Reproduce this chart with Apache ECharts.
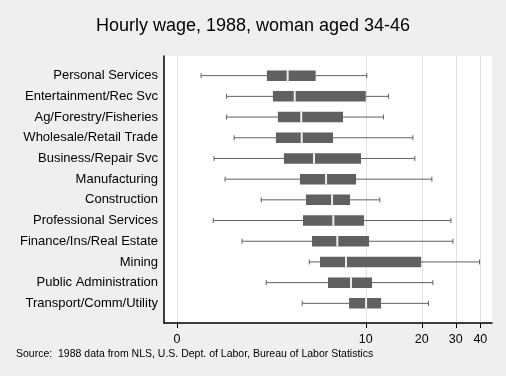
<!DOCTYPE html>
<html>
<head>
<meta charset="utf-8">
<script src="https://cdn.jsdelivr.net/npm/echarts@6/dist/echarts.min.js"></script>
<style>
  html, body { margin: 0; padding: 0; background: #efefef; }
  #chart { width: 506px; height: 376px; }
</style>
</head>
<body>
<div id="chart"></div>
<script>
// industries, top to bottom
var industries = [
  "Personal Services", "Entertainment/Rec Svc", "Ag/Forestry/Fisheries",
  "Wholesale/Retail Trade", "Business/Repair Svc", "Manufacturing",
  "Construction", "Professional Services", "Finance/Ins/Real Estate",
  "Mining", "Public Administration", "Transport/Comm/Utility"
];
// hourly wage box stats (adjacent values, quartiles, median)
var lowWhisker = [0.42, 1.01, 1.01, 1.22, 0.70, 0.97, 2.14, 0.68, 1.46, 4.65, 2.34, 4.19];
var q1         = [2.37, 2.63, 2.86, 2.77, 3.16, 4.05, 4.43, 4.24, 4.84, 5.42, 6.06, 8.05];
var median     = [3.35, 3.74, 4.13, 4.16, 4.98, 5.90, 6.41, 6.52, 6.88, 7.73, 8.26, 10.04];
var q3         = [5.10, 10.0, 7.43, 6.49, 9.41, 8.82, 8.15, 9.78, 10.43, 19.85, 10.84, 12.14];
var highWhisker = [10.13, 13.30, 12.50, 17.96, 18.39, 22.58, 11.95, 28.31, 28.99, 39.62, 22.85, 21.67];
var wageTicks = [0, 10, 20, 30, 40];

// axis is log(wage + c)
var OFFSET = 1.35;
function tr(w) { return Math.log(w + OFFSET) - Math.log(OFFSET); }
function untr(v) { return OFFSET * Math.exp(v) - OFFSET; }

var data = industries.map(function (name, i) {
  return [i, tr(lowWhisker[i]), tr(q1[i]), tr(median[i]), tr(q3[i]), tr(highWhisker[i])];
});

var boxColor = "#606060";

var chart = echarts.init(document.getElementById("chart"));
chart.setOption({
  backgroundColor: "#efefef",
  animation: false,
  title: {
    text: "Hourly wage, 1988, woman aged 34-46",
    left: "center",
    top: 12,
    textStyle: { fontFamily: "Liberation Sans", fontSize: 18, fontWeight: "normal", color: "#000" }
  },
  graphic: [
    {
      type: "text",
      left: 16,
      top: 349,
      style: {
        text: "Source:  1988 data from NLS, U.S. Dept. of Labor, Bureau of Labor Statistics",
        font: "10.5px Liberation Sans",
        fill: "#000"
      }
    }
  ],
  grid: {
    left: 164,
    right: 14,
    top: 56,
    bottom: 53,
    show: true,
    backgroundColor: "#ffffff",
    borderWidth: 0
  },
  xAxis: {
    type: "value",
    min: tr(-0.185),
    max: tr(45.8),
    axisLine: { show: true, onZero: false, lineStyle: { color: "#000", width: 1.5 } },
    axisTick: { show: true, length: 5, customValues: wageTicks.map(tr), lineStyle: { color: "#000" } },
    axisLabel: {
      customValues: wageTicks.map(tr),
      formatter: function (v) { return String(Math.round(untr(v))); },
      color: "#000",
      fontFamily: "Liberation Sans",
      fontSize: 12.5,
      margin: 10
    },
    splitLine: { show: true, lineStyle: { color: "#e2e2e2", width: 1 } }
  },
  yAxis: {
    type: "value",
    inverse: true,
    min: -0.95,
    max: 11.95,
    axisLine: { show: true, onZero: false, lineStyle: { color: "#000", width: 1.5 } },
    axisTick: { show: false },
    splitLine: { show: false },
    axisLabel: {
      customValues: industries.map(function (n, i) { return i; }),
      formatter: function (v) { return industries[v] || ""; },
      color: "#000",
      fontFamily: "Liberation Sans",
      fontSize: 13,
      margin: 6
    }
  },
  series: [
    {
      type: "custom",
      data: data,
      encode: { x: [1, 2, 3, 4, 5], y: 0 },
      renderItem: function (params, api) {
        var i = api.value(0);
        var pLow = api.coord([api.value(1), i]);
        var pQ1 = api.coord([api.value(2), i]);
        var pMed = api.coord([api.value(3), i]);
        var pQ3 = api.coord([api.value(4), i]);
        var pHigh = api.coord([api.value(5), i]);
        var y = pLow[1];
        var boxH = 10.5, capH = 5;
        var lineStyle = { stroke: boxColor, lineWidth: 1 };
        return {
          type: "group",
          children: [
            { type: "line", shape: { x1: pLow[0], y1: y, x2: pQ1[0], y2: y }, style: lineStyle },
            { type: "line", shape: { x1: pQ3[0], y1: y, x2: pHigh[0], y2: y }, style: lineStyle },
            { type: "line", shape: { x1: pLow[0], y1: y - capH / 2, x2: pLow[0], y2: y + capH / 2 }, style: lineStyle },
            { type: "line", shape: { x1: pHigh[0], y1: y - capH / 2, x2: pHigh[0], y2: y + capH / 2 }, style: lineStyle },
            { type: "rect", shape: { x: pQ1[0], y: y - boxH / 2, width: pQ3[0] - pQ1[0], height: boxH }, style: { fill: boxColor } },
            { type: "line", shape: { x1: pMed[0], y1: y - boxH / 2, x2: pMed[0], y2: y + boxH / 2 }, style: { stroke: "#eeeeee", lineWidth: 2 } }
          ]
        };
      }
    }
  ]
});
</script>
</body>
</html>
